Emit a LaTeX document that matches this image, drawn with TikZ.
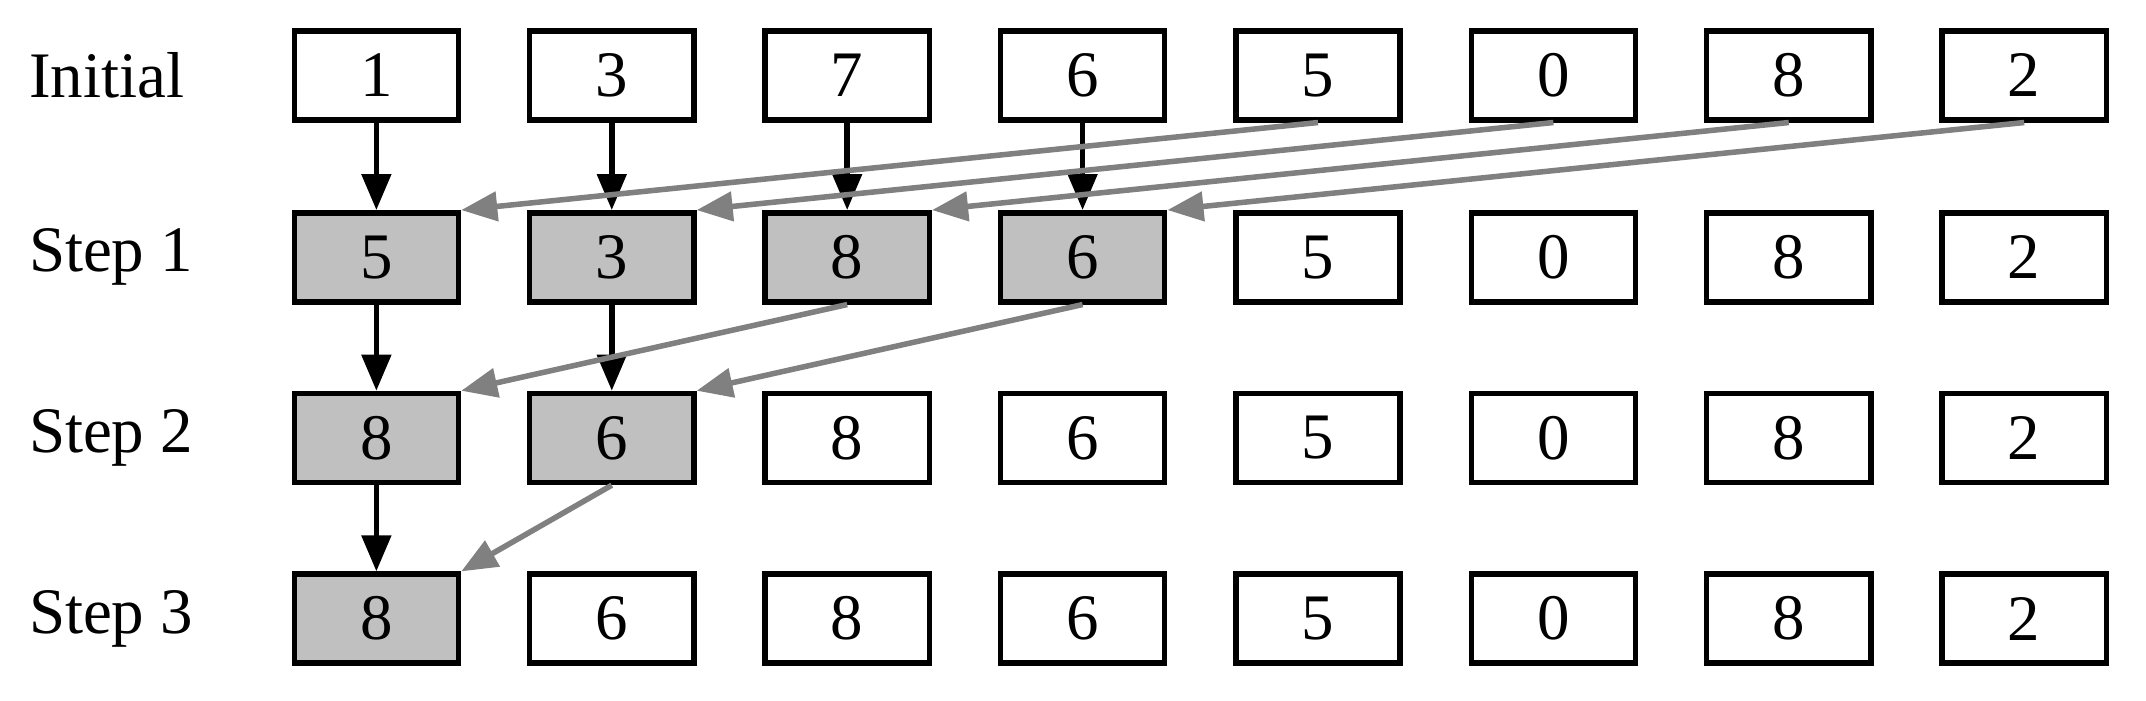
\documentclass[tikz,border=0pt]{standalone}
\usepackage{fontspec}
\setmainfont{Liberation Serif}
\usetikzlibrary{arrows.meta}
\begin{document}
\begin{tikzpicture}[x=0.02cm,y=-0.02cm,
  cell/.style={draw=black,line width=2.3pt,minimum width=2.4cm,minimum height=1.3cm,inner sep=0pt,font=\fontsize{27}{32}\selectfont},
  hl/.style={cell,fill={rgb,255:red,192;green,192;blue,192}},
  lab/.style={anchor=west,font=\fontsize{27}{32}\selectfont},
  blk/.style={draw=black,line width=2.3pt,-{Triangle[length=15pt,width=12pt]}},
  gry/.style={draw={rgb,255:red,128;green,128;blue,128},line width=2.3pt,-{Triangle[length=15pt,width=12pt]}}]
\useasboundingbox (0,0) rectangle (1568,512);
\node[lab] (l0) at (15,55) {Initial};
\node[lab] (l1) at (15,188) {Step 1};
\node[lab] (l2) at (15,320) {Step 2};
\node[lab] (l3) at (15,452) {Step 3};
\foreach \v [count=\i] in {1,3,7,6,5,0,8,2}
  \node[cell] (a\i) at ({275+172*(\i-1)},55) {\v};
\foreach \v [count=\i] in {5,3,8,6,5,0,8,2}
  \node[\ifnum\i<5 hl\else cell\fi] (b\i) at ({275+172*(\i-1)},188) {\v};
\foreach \v [count=\i] in {8,6,8,6,5,0,8,2}
  \node[\ifnum\i<3 hl\else cell\fi] (c\i) at ({275+172*(\i-1)},320) {\v};
\foreach \v [count=\i] in {8,6,8,6,5,0,8,2}
  \node[\ifnum\i<2 hl\else cell\fi] (d\i) at ({275+172*(\i-1)},452) {\v};
\foreach \i in {1,2,3,4} \draw[blk] (a\i.south) -- (b\i.north);
\foreach \i/\j in {5/1,6/2,7/3,8/4} \draw[gry] (a\i.south) -- (b\j.north east);
\foreach \i in {1,2} \draw[blk] (b\i.south) -- (c\i.north);
\foreach \i/\j in {3/1,4/2} \draw[gry] (b\i.south) -- (c\j.north east);
\draw[blk] (c1.south) -- (d1.north);
\draw[gry] (c2.south) -- (d1.north east);
\end{tikzpicture}
\end{document}
